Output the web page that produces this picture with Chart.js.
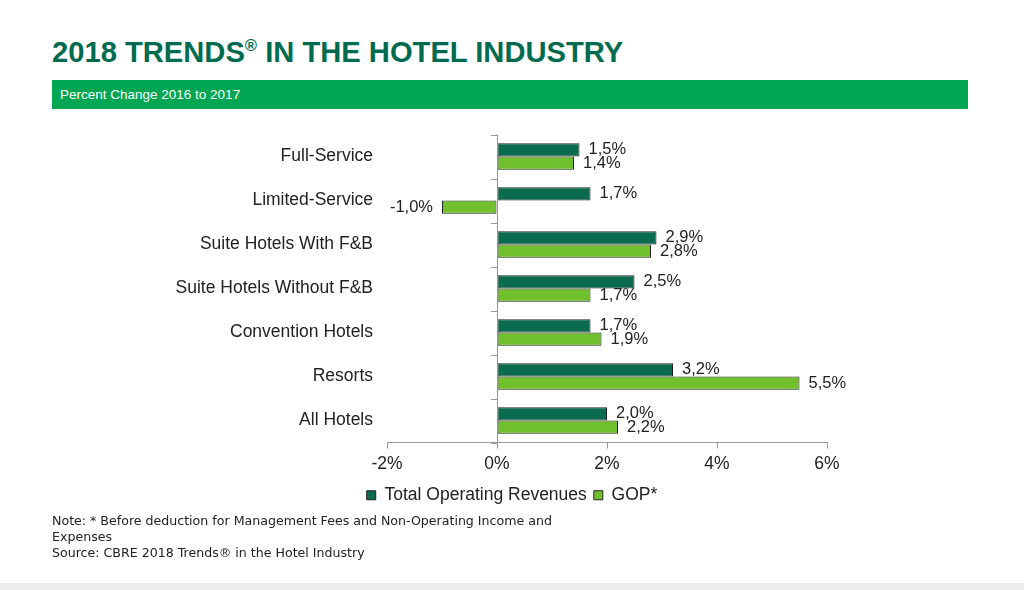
<!DOCTYPE html>
<html>
<head>
<meta charset="utf-8">
<script src="https://cdn.jsdelivr.net/npm/chart.js@4.4.1/dist/chart.umd.min.js"></script>
<style>
  body { margin: 0; background: #fff; width: 1024px; height: 590px; overflow: hidden; position: relative; font-family: "Liberation Sans", Arial, sans-serif; }
  #title { position: absolute; left: 52px; top: 35px; font-family: "Liberation Sans", sans-serif; font-weight: bold; font-size: 30px; color: #006b4f; transform: scaleX(0.972); transform-origin: left top; white-space: nowrap; }
  #title sup { font-size: 17px; vertical-align: 11px; line-height: 0; }
  #band { position: absolute; left: 52px; top: 80px; width: 916px; height: 29px; background: #00a651; color: #fff; font-size: 13.5px; line-height: 29px; }
  #band span { padding-left: 8px; }
  #wrap { position: absolute; left: 0; top: 110px; width: 1024px; height: 404px; }
  #note { position: absolute; left: 52px; top: 513px; font-family: "DejaVu Sans", sans-serif; font-size: 12.6px; line-height: 16px; color: #222; width: 560px; }
  #foot { position: absolute; left: 0; top: 583px; width: 1024px; height: 7px; background: #ececec; }
</style>
</head>
<body>
<div id="title">2018 TRENDS<sup>®</sup> IN THE HOTEL INDUSTRY</div>
<div id="band"><span>Percent Change 2016 to 2017</span></div>
<div id="wrap"><canvas id="myChart"></canvas></div>
<div id="note">Note: * Before deduction for Management Fees and Non-Operating Income and Expenses<br>Source: CBRE 2018 Trends® in the Hotel Industry</div>
<div id="foot"></div>
<script>
var categories = ['Full-Service', 'Limited-Service', 'Suite Hotels With F&B', 'Suite Hotels Without F&B', 'Convention Hotels', 'Resorts', 'All Hotels'];
var revenues = [1.5, 1.7, 2.9, 2.5, 1.7, 3.2, 2.0];
var gop = [1.4, -1.0, 2.8, 1.7, 1.9, 5.5, 2.2];
var xTicks = [-2, 0, 2, 4, 6];

var fam = '"Liberation Sans", Arial, sans-serif';
var font = { family: fam, size: 17.5 };

// value labels next to bar ends, plus tick marks on the zero line
var barLabels = {
   id: 'barLabels',
   afterLayout: function(chart) {
      // center the legend on the whole page, not just the plot block
      var lg = chart.legend;
      var shift = chart.width / 2 - (lg.left + lg.right) / 2;
      lg.left += shift;
      lg.right += shift;
   },
   afterDatasetsDraw: function(chart) {
      var ctx = chart.ctx;
      var xs = chart.scales.x, ys = chart.scales.y;
      var x0 = xs.getPixelForValue(0);
      ctx.save();
      ctx.strokeStyle = '#999';
      ctx.lineWidth = 1;
      ctx.beginPath();
      ctx.moveTo(x0 + 0.5, chart.chartArea.top);
      ctx.lineTo(x0 + 0.5, chart.chartArea.bottom);
      for (var i = 0; i <= categories.length; i++) {
         var y = Math.round(ys.getPixelForValue(i - 0.5)) + 0.5;
         ctx.moveTo(x0 - 6, y);
         ctx.lineTo(x0, y);
      }
      ctx.stroke();
      ctx.font = '16.5px ' + fam;
      ctx.fillStyle = '#222';
      ctx.textBaseline = 'middle';
      chart.data.datasets.forEach(function(ds, di) {
         chart.getDatasetMeta(di).data.forEach(function(bar, j) {
            var v = ds.data[j];
            var txt = v.toFixed(1).replace('.', ',') + '%';
            if (v < 0) {
               ctx.textAlign = 'right';
               ctx.fillText(txt, bar.x - 9, bar.y);
            } else {
               ctx.textAlign = 'left';
               ctx.fillText(txt, bar.x + 9, bar.y);
            }
         });
      });
      ctx.restore();
   }
};

var ctx = document.getElementById('myChart').getContext('2d');
var chart = new Chart(ctx, {
   type: 'bar',
   data: {
      labels: categories,
      datasets: [{
         label: 'Total Operating Revenues',
         data: revenues,
         backgroundColor: '#0a6b4f',
         borderColor: '#222',
         borderWidth: 1,
         borderSkipped: false
      }, {
         label: 'GOP*',
         data: gop,
         backgroundColor: '#70c02e',
         borderColor: '#222',
         borderWidth: 1,
         borderSkipped: false
      }]
   },
   options: {
      indexAxis: 'y',
      responsive: true,
      maintainAspectRatio: false,
      animation: false,
      datasets: { bar: { categoryPercentage: 0.6, barPercentage: 1.0 } },
      layout: { padding: { left: 0, right: 197, top: 10, bottom: 0 } },
      scales: {
         x: {
            min: -2,
            max: 6,
            afterBuildTicks: function(scale) {
               scale.ticks = xTicks.map(function(v) { return { value: v }; });
            },
            ticks: {
               font: font,
               color: '#222',
               padding: 5,
               callback: function(v) { return v + '%'; }
            },
            grid: { drawOnChartArea: false, tickLength: 6, color: '#999' },
            border: { color: '#999' }
         },
         y: {
            afterFit: function(scale) { scale.width = 387; },
            ticks: { font: font, color: '#222', padding: 14 },
            grid: { display: false, drawTicks: false },
            border: { display: false }
         }
      },
      plugins: {
         legend: {
            position: 'bottom',
            labels: {
               font: font,
               color: '#222',
               boxWidth: 9,
               boxHeight: 9,
               padding: 7
            }
         },
         tooltip: { enabled: false }
      }
   },
   plugins: [barLabels]
});
</script>
</body>
</html>
